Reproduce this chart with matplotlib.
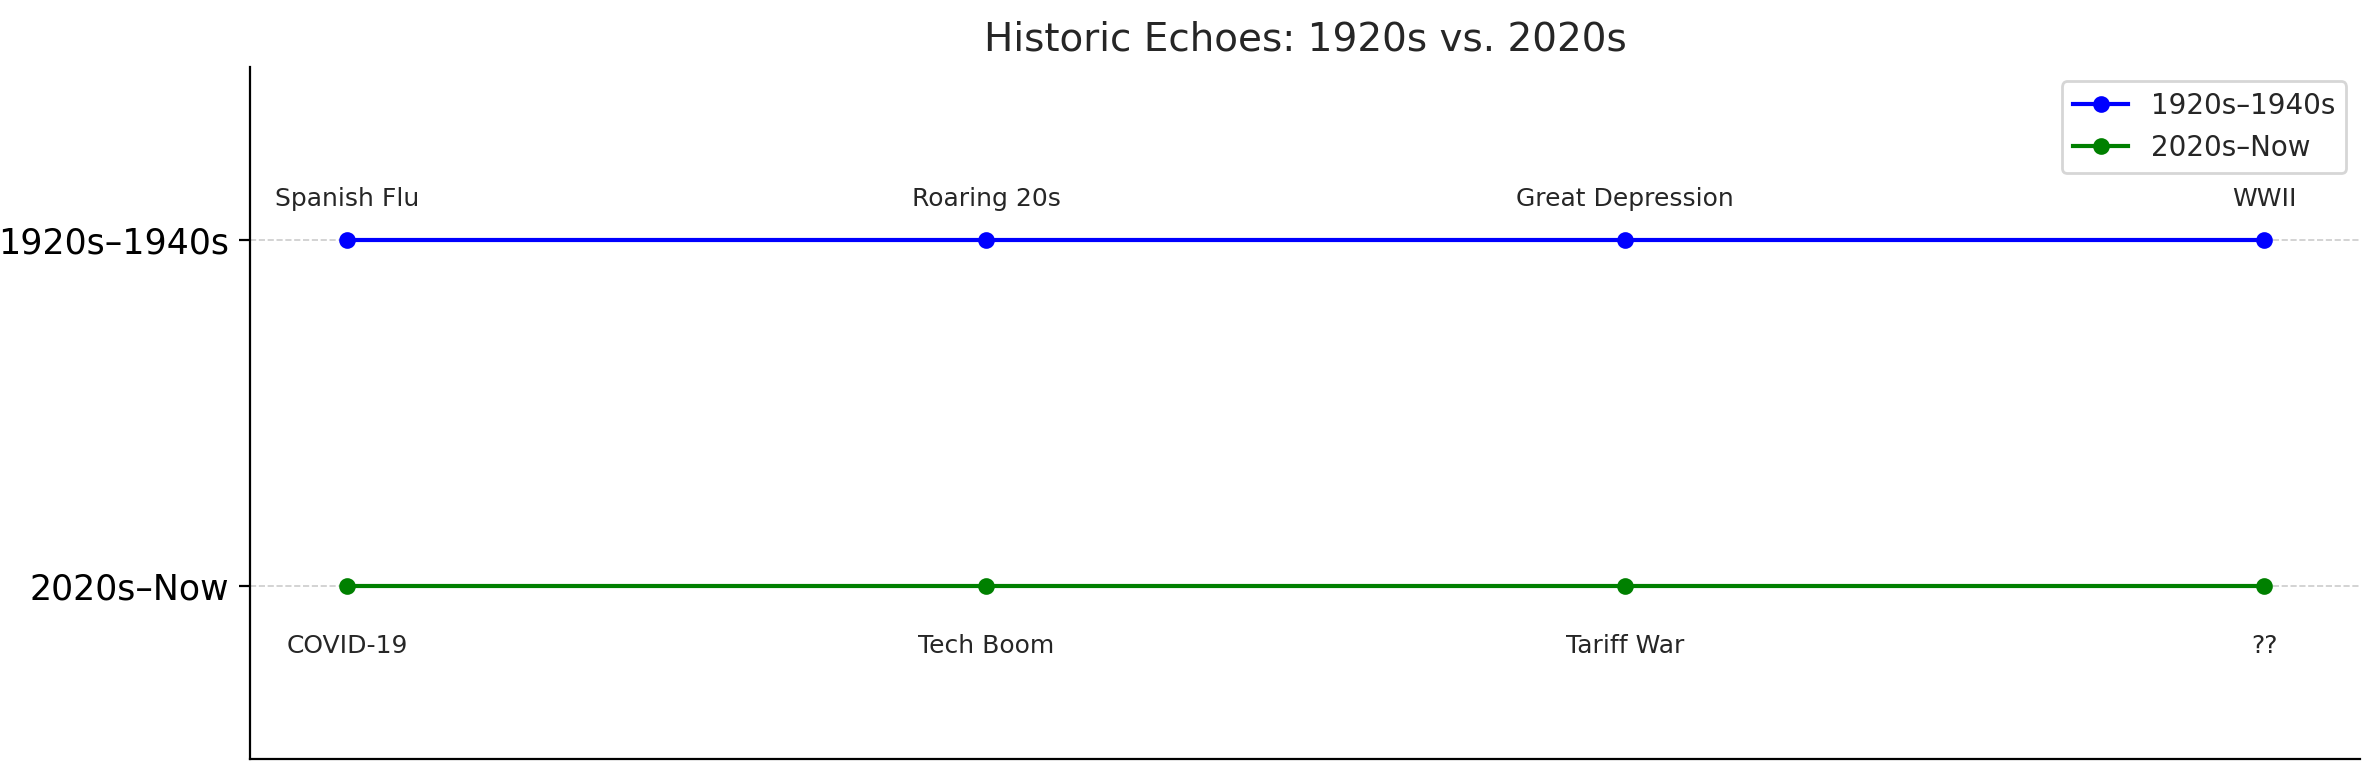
import matplotlib.pyplot as plt

rows = ['2020s–Now', '1920s–1940s']
events_1920s = ['Spanish Flu', 'Roaring 20s', 'Great Depression', 'WWII']
events_2020s = ['COVID-19', 'Tech Boom', 'Tariff War', '??']
steps = [0, 1, 2, 3]

fig, ax = plt.subplots(figsize=(11.895, 3.9), dpi=200)
fig.subplots_adjust(left=0.105, right=0.992, top=0.914, bottom=0.027)

ax.plot(steps, [1] * 4, '-o', color='blue', markersize=5, linewidth=1.5, label='1920s–1940s')
ax.plot(steps, [0] * 4, '-o', color='green', markersize=5, linewidth=1.5, label='2020s–Now')

for x, name in zip(steps, events_1920s):
    ax.text(x, 1.085, name, ha='center', va='bottom', fontsize=9, color='#262626')
for x, name in zip(steps, events_2020s):
    ax.text(x, -0.14, name, ha='center', va='top', fontsize=9, color='#262626')

ax.set_yticks([0, 1])
ax.set_yticklabels(rows, fontsize=12.5)
ax.set_xticks([])
ax.set_xlim(-0.152, 3.15)
ax.set_ylim(-0.5, 1.5)
ax.yaxis.grid(True, linestyle='--', color='#cccccc', linewidth=0.6)
ax.set_axisbelow(True)
ax.spines['top'].set_visible(False)
ax.spines['right'].set_visible(False)
ax.tick_params(axis='y', length=4)
ax.set_title('Historic Echoes: 1920s vs. 2020s', fontsize=14, color='#262626')
leg = ax.legend(loc='upper right', fontsize=10)
for t in leg.get_texts():
    t.set_color('#262626')

fig.savefig('out.png')
